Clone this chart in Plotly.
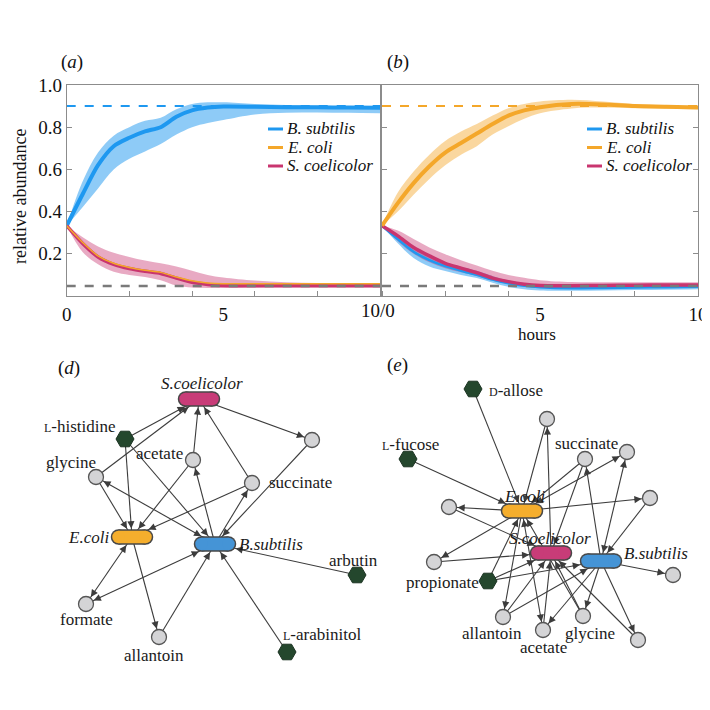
import numpy as np
import plotly.graph_objects as go

FONT = 'Liberation Serif'
W = H = 702          # figure size; the page adds an 8 px body margin
OFF = 8              # screen offset of the figure inside the 710 px window

# ---- panels (a), (b): relative abundance over time ----
hours = [0, 0.5, 1, 1.5, 2, 2.5, 3, 3.5, 4, 4.5, 5, 6, 7, 8, 9, 10]

a_bsub = [0.333, 0.48, 0.62, 0.71, 0.75, 0.78, 0.80, 0.85, 0.88, 0.893, 0.898, 0.897, 0.895, 0.894, 0.893, 0.892]
a_bsub_hi = [0.333, 0.54, 0.68, 0.76, 0.80, 0.83, 0.845, 0.885, 0.91, 0.918, 0.918, 0.91, 0.905, 0.902, 0.90, 0.90]
a_bsub_lo = [0.333, 0.42, 0.51, 0.60, 0.65, 0.685, 0.72, 0.765, 0.80, 0.82, 0.834, 0.86, 0.868, 0.87, 0.868, 0.866]
a_ecoli = [0.333, 0.255, 0.19, 0.155, 0.135, 0.122, 0.112, 0.09, 0.072, 0.062, 0.058, 0.058, 0.058, 0.058, 0.058, 0.058]
a_scoel = [0.333, 0.25, 0.185, 0.15, 0.13, 0.117, 0.107, 0.085, 0.065, 0.055, 0.05, 0.049, 0.049, 0.049, 0.049, 0.049]
a_scoel_hi = [0.333, 0.28, 0.235, 0.205, 0.185, 0.168, 0.155, 0.14, 0.12, 0.10, 0.088, 0.073, 0.065, 0.062, 0.06, 0.06]
a_scoel_lo = [0.333, 0.21, 0.15, 0.115, 0.1, 0.09, 0.075, 0.05, 0.04, 0.038, 0.038, 0.04, 0.041, 0.041, 0.041, 0.041]

b_ecoli = [0.333, 0.44, 0.535, 0.615, 0.68, 0.725, 0.77, 0.815, 0.855, 0.88, 0.895, 0.91, 0.908, 0.90, 0.897, 0.893]
b_ecoli_hi = [0.333, 0.49, 0.59, 0.67, 0.735, 0.78, 0.815, 0.855, 0.89, 0.91, 0.922, 0.93, 0.922, 0.91, 0.903, 0.897]
b_ecoli_lo = [0.333, 0.40, 0.48, 0.555, 0.62, 0.67, 0.71, 0.765, 0.805, 0.84, 0.866, 0.889, 0.893, 0.89, 0.887, 0.885]
b_scoel = [0.333, 0.285, 0.23, 0.19, 0.155, 0.132, 0.11, 0.085, 0.068, 0.056, 0.05, 0.049, 0.05, 0.051, 0.052, 0.052]
b_scoel_hi = [0.333, 0.31, 0.27, 0.23, 0.198, 0.17, 0.145, 0.12, 0.1, 0.086, 0.075, 0.066, 0.065, 0.065, 0.065, 0.065]
b_scoel_lo = [0.333, 0.26, 0.2, 0.16, 0.132, 0.112, 0.095, 0.072, 0.057, 0.046, 0.042, 0.041, 0.041, 0.041, 0.041, 0.041]
b_bsub = [0.333, 0.27, 0.21, 0.17, 0.142, 0.12, 0.1, 0.078, 0.06, 0.048, 0.042, 0.037, 0.038, 0.04, 0.042, 0.044]
b_bsub_hi = [0.333, 0.285, 0.23, 0.19, 0.16, 0.138, 0.12, 0.095, 0.073, 0.06, 0.052, 0.05, 0.05, 0.051, 0.052, 0.052]
b_bsub_lo = [0.333, 0.25, 0.18, 0.14, 0.118, 0.1, 0.085, 0.063, 0.044, 0.032, 0.026, 0.025, 0.026, 0.028, 0.03, 0.032]

dominant_level = 0.9
minor_level = 0.047

y_ticks = [0.2, 0.4, 0.6, 0.8, 1.0]
y_ticktext = ['0.2', '0.4', '0.6', '0.8', '1.0']
legend_names = ['<i>B. subtilis</i>', '<i>E. coli</i>', '<i>S. coelicolor</i>']

# ---- panels (d), (e): interaction networks ----
d_pos = {
    'SC': (199, 399), 'EC': (132, 537), 'BS': (215, 544),
    'his': (125, 439), 'ace': (193, 460), 'gly': (96, 477), 'm1': (312, 440),
    'suc': (252, 483), 'arb': (357, 575), 'ara': (287, 652),
    'for': (86, 604), 'all': (159, 637),
}
d_edges = [
    ('his', 'SC', 0), ('his', 'EC', 0), ('his', 'BS', 0),
    ('gly', 'SC', 0), ('gly', 'EC', 0), ('gly', 'BS', 1),
    ('ace', 'SC', 0), ('ace', 'EC', 0), ('BS', 'ace', 0),
    ('BS', 'suc', 0), ('suc', 'SC', 0), ('suc', 'EC', 0),
    ('SC', 'm1', 0), ('m1', 'BS', 0), ('arb', 'BS', 0), ('ara', 'BS', 0),
    ('all', 'BS', 0), ('EC', 'all', 0), ('EC', 'for', 1), ('for', 'BS', 1),
]
d_hex = ['his', 'arb', 'ara']

e_pos = {
    'EC': (522, 511), 'SC': (551, 553), 'BS': (601, 561),
    'allo': (473, 389), 'fuc': (408, 459), 'pro': (488, 581),
    'c1': (547, 419), 'suc': (585, 459), 'c2': (627, 452), 'c3': (650, 498),
    'c4': (449, 507), 'c5': (434, 562), 'c6': (673, 575),
    'all': (503, 617), 'ace': (543, 630), 'gly': (583, 616), 'c7': (638, 640),
}
e_edges = [
    ('allo', 'EC', 0), ('c1', 'EC', 0), ('SC', 'c1', 0), ('fuc', 'EC', 0),
    ('EC', 'c4', 0), ('c4', 'SC', 0), ('EC', 'c5', 0), ('c5', 'SC', 0),
    ('suc', 'EC', 0), ('EC', 'c2', 1), ('EC', 'c3', 0), ('suc', 'SC', 0),
    ('BS', 'suc', 0), ('c2', 'BS', 1), ('c3', 'BS', 0), ('BS', 'c6', 0),
    ('BS', 'c7', 0), ('BS', 'ace', 0), ('BS', 'gly', 0), ('all', 'BS', 0),
    ('all', 'SC', 0), ('ace', 'SC', 0), ('gly', 'SC', 0), ('c7', 'SC', 0),
    ('pro', 'SC', 0), ('pro', 'BS', 0), ('pro', 'EC', 0), ('EC', 'all', 0),
    ('EC', 'ace', 1), ('gly', 'EC', 0),
]
e_hex = ['allo', 'fuc', 'pro']

species = ['SC', 'EC', 'BS']


def small(c):
    return f"<span style='font-size:12px'>{c}</span>"


d_labels = {
    'SC': ('<i>S.coelicolor</i>', 3, -16, 'center'),
    'EC': ('<i>E.coli</i>', -21, 0, 'right'),
    'BS': ('<i>B.subtilis</i>', 22, 0, 'left'),
    'his': (small('L') + '-histidine', -7, -13, 'right'),
    'ace': ('acetate', -8, -7, 'right'),
    'gly': ('glycine', -25, -15, 'center'),
    'suc': ('succinate', 15, -1, 'left'),
    'arb': ('arbutin', -4, -15, 'center'),
    'ara': (small('L') + '-arabinitol', 35, -18, 'center'),
    'for': ('formate', 0, 15, 'center'),
    'all': ('allantoin', -5, 18, 'center'),
}
e_labels = {
    'EC': ('<i>E.coli</i>', 2, -15, 'center'),
    'SC': ('<i>S.coelicolor</i>', -1, -15, 'center'),
    'BS': ('<i>B.subtilis</i>', 21, -8, 'left'),
    'allo': (small('D') + '-allose', 14, 1, 'left'),
    'fuc': (small('L') + '-fucose', 2, -15, 'center'),
    'pro': ('propionate', -7, 1, 'right'),
    'suc': ('succinate', 1, -16, 'center'),
    'all': ('allantoin', -11, 16, 'center'),
    'ace': ('acetate', 0, 17, 'center'),
    'gly': ('glycine', 7, 17, 'center'),
}

BLUE, ORANGE, MAGENTA = '#1e98f0', '#f4a72a', '#c9356f'
BLUE_BAND = 'rgba(30,152,240,0.5)'
ORANGE_BAND = 'rgba(244,167,42,0.45)'
MAGENTA_BAND = 'rgba(201,53,111,0.42)'
GREY_DASH = '#7a7a7a'
AXIS = '#8c8c8c'
EDGE = '#3c3c3c'
PILL = {'SC': '#c83c78', 'EC': '#f5ae2d', 'BS': '#4594d6'}
PILL_HALF, PILL_RAD = 13.5, 7.0


def px(x):
    return (x - OFF) / W


def py(y):
    return 1 - (y - OFF) / H


fig = go.Figure()


def band(lo, hi, color, xa, ya):
    fig.add_trace(go.Scatter(x=hours, y=lo, mode='lines', line=dict(width=0, shape='spline'),
                             xaxis=xa, yaxis=ya, showlegend=False, hoverinfo='skip'))
    fig.add_trace(go.Scatter(x=hours, y=hi, mode='lines', line=dict(width=0, shape='spline'),
                             fill='tonexty', fillcolor=color,
                             xaxis=xa, yaxis=ya, showlegend=False, hoverinfo='skip'))


def mean_line(y, color, width, xa, ya):
    fig.add_trace(go.Scatter(x=hours, y=y, mode='lines',
                             line=dict(color=color, width=width, shape='spline', smoothing=0.8),
                             xaxis=xa, yaxis=ya, showlegend=False, hoverinfo='skip'))


def level(value, color, width, xa, ya):
    fig.add_trace(go.Scatter(x=[hours[0], hours[-1]], y=[value, value], mode='lines',
                             line=dict(color=color, width=width, dash='dash'),
                             xaxis=xa, yaxis=ya, showlegend=False, hoverinfo='skip'))


# panel (a)
level(dominant_level, BLUE, 2, 'x', 'y')
band(a_bsub_lo, a_bsub_hi, BLUE_BAND, 'x', 'y')
band(a_scoel_lo, a_scoel_hi, MAGENTA_BAND, 'x', 'y')
mean_line(a_bsub, BLUE, 4, 'x', 'y')
mean_line(a_scoel, MAGENTA, 3.5, 'x', 'y')
mean_line(a_ecoli, ORANGE, 1.5, 'x', 'y')
level(minor_level, GREY_DASH, 2.5, 'x', 'y')

# panel (b)
level(dominant_level, ORANGE, 2, 'x2', 'y2')
band(b_bsub_lo, b_bsub_hi, BLUE_BAND, 'x2', 'y2')
band(b_scoel_lo, b_scoel_hi, MAGENTA_BAND, 'x2', 'y2')
band(b_ecoli_lo, b_ecoli_hi, ORANGE_BAND, 'x2', 'y2')
mean_line(b_bsub, BLUE, 2.5, 'x2', 'y2')
mean_line(b_scoel, MAGENTA, 3.5, 'x2', 'y2')
mean_line(b_ecoli, ORANGE, 4, 'x2', 'y2')
level(minor_level, GREY_DASH, 2.5, 'x2', 'y2')


def reach(is_pill, ux, uy):
    # distance from node centre to its outline along (ux, uy)
    if not is_pill:
        return 8.5
    lo, hi = 0.0, 40.0
    for _ in range(30):
        mid = (lo + hi) / 2
        qx, qy = mid * ux, mid * uy
        cx = min(max(qx, -PILL_HALF), PILL_HALF)
        if np.hypot(qx - cx, qy) < PILL_RAD:
            lo = mid
        else:
            hi = mid
    return hi + 1.5


annotations = []
shapes = []


def head(pos, s, t):
    sx, sy = pos[s]
    tx, ty = pos[t]
    d = np.hypot(sx - tx, sy - ty)
    ux, uy = (sx - tx) / d, (sy - ty) / d
    r = reach(t in species, ux, uy)
    hx, hy = tx + ux * r, ty + uy * r
    annotations.append(dict(x=hx, y=hy, ax=hx + ux * 9, ay=hy + uy * 9,
                            xref='x3', yref='y3', axref='x3', ayref='y3',
                            text='', showarrow=True, arrowhead=2, arrowsize=1.3,
                            arrowwidth=1.1, arrowcolor=EDGE))


def network(pos, edges, hexes, labels):
    ex, ey = [], []
    for s, t, both in edges:
        ex += [pos[s][0], pos[t][0], None]
        ey += [pos[s][1], pos[t][1], None]
        head(pos, s, t)
        if both:
            head(pos, t, s)
    fig.add_trace(go.Scatter(x=ex, y=ey, mode='lines', line=dict(color=EDGE, width=1.1),
                             xaxis='x3', yaxis='y3', showlegend=False, hoverinfo='skip'))

    circ = [n for n in pos if n not in species and n not in hexes]
    fig.add_trace(go.Scatter(x=[pos[n][0] for n in circ], y=[pos[n][1] for n in circ],
                             mode='markers', xaxis='x3', yaxis='y3', showlegend=False, hoverinfo='skip',
                             marker=dict(size=15, color='#d4d4d6', line=dict(color='#555555', width=1.3))))
    fig.add_trace(go.Scatter(x=[pos[n][0] for n in hexes], y=[pos[n][1] for n in hexes],
                             mode='markers', xaxis='x3', yaxis='y3', showlegend=False, hoverinfo='skip',
                             marker=dict(symbol='hexagon2', size=18, color='#24472d',
                                         line=dict(color='#1b3322', width=1))))
    for n in species:
        cx, cy = pos[n]
        for width, color in [(15.5, '#474747'), (12.5, PILL[n])]:
            fig.add_trace(go.Scatter(x=[cx - PILL_HALF, cx + PILL_HALF], y=[cy, cy],
                                     mode='lines+markers', xaxis='x3', yaxis='y3',
                                     showlegend=False, hoverinfo='skip',
                                     line=dict(color=color, width=width),
                                     marker=dict(size=width, color=color, line=dict(width=0))))

    for n, (text, dx, dy, anchor) in labels.items():
        annotations.append(dict(x=pos[n][0] + dx, y=pos[n][1] + dy, xref='x3', yref='y3',
                                text=text, showarrow=False, xanchor=anchor, yanchor='middle',
                                font=dict(family=FONT, size=17, color='#1a1a1a')))


network(d_pos, d_edges, d_hex, d_labels)
network(e_pos, e_edges, e_hex, e_labels)


def paper_text(text, x, y, size=16, angle=0, anchor='center'):
    annotations.append(dict(x=px(x), y=py(y), xref='paper', yref='paper', text=text,
                            showarrow=False, textangle=angle, xanchor=anchor, yanchor='middle',
                            font=dict(family=FONT, size=size, color='#111111')))


def legend_box(x0, y0, colors):
    # hand-drawn key: short line + italic name per row
    for i, (name, color) in enumerate(zip(legend_names, colors)):
        yy = y0 + i * 18.5
        shapes.append(dict(type='line', xref='paper', yref='paper', x0=px(x0), x1=px(x0 + 15),
                           y0=py(yy), y1=py(yy), line=dict(color=color, width=3)))
        paper_text(name, x0 + 17, yy, 17, anchor='left')


legend_box(268, 129, [BLUE, ORANGE, MAGENTA])
legend_box(587, 129, [BLUE, ORANGE, MAGENTA])

paper_text('(<i>a</i>)', 72, 62, 19)
paper_text('(<i>b</i>)', 398, 62, 19)
paper_text('(<i>d</i>)', 69, 368, 19)
paper_text('(<i>e</i>)', 397, 365, 19)
paper_text('relative abundance', 20, 197, 18, -90)
paper_text('hours', 537, 334, 17)
paper_text('10/0', 378, 310, 19)

tick_font = dict(family=FONT, size=19, color='#111111')
x_common = dict(range=[0, 10], showgrid=False, zeroline=False, showline=True, linecolor=AXIS,
                linewidth=1, mirror=True, ticks='', tickfont=tick_font, ticklabelstandoff=1,
                minor=dict(dtick=2, tick0=0, ticks='inside', ticklen=5, tickcolor=AXIS))
y_common = dict(range=[0, 1], showgrid=False, zeroline=False, showline=True, linecolor=AXIS,
                linewidth=1, tickvals=y_ticks, ticktext=y_ticktext, ticks='inside', ticklen=5,
                tickcolor=AXIS, tickfont=tick_font, domain=[py(296), py(85)])

fig.update_layout(
    width=W, height=H, margin=dict(l=0, r=0, t=0, b=0, autoexpand=False),
    plot_bgcolor='white', paper_bgcolor='white', hovermode=False, showlegend=False,
    font=dict(family=FONT),
    xaxis=dict(x_common, domain=[px(66.7), px(380)], anchor='y', tickvals=[0, 5], ticktext=['0', '5']),
    yaxis=dict(y_common, anchor='x', mirror=True),
    xaxis2=dict(x_common, domain=[px(382), px(698)], anchor='y2', tickvals=[5, 10], ticktext=['5', '10']),
    yaxis2=dict(y_common, anchor='x2', mirror='ticks', showticklabels=False),
    # network panels use screen pixel coordinates
    xaxis3=dict(domain=[0, 1], range=[OFF, OFF + W], anchor='y3', visible=False),
    yaxis3=dict(domain=[0, py(355)], range=[OFF + H, 355], anchor='x3', visible=False),
    annotations=annotations,
    shapes=shapes,
)

fig.write_html("out.html")
